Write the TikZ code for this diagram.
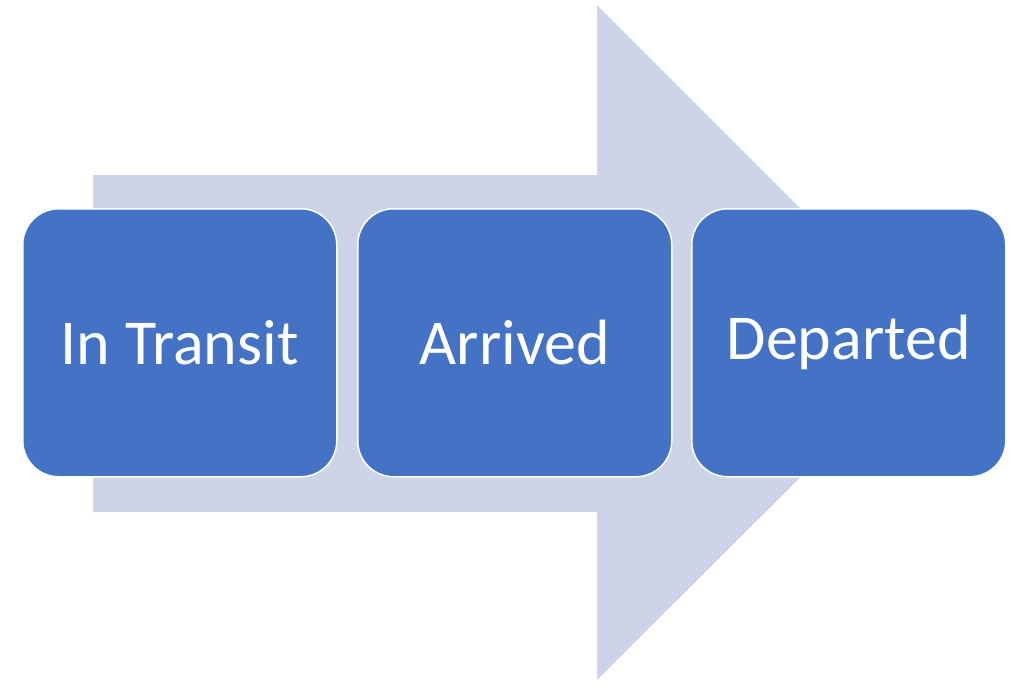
\documentclass[tikz,border=0pt]{standalone}
\usepackage{fontspec}
\setmainfont{Carlito}
\definecolor{arr}{HTML}{CED4E8}
\definecolor{box}{HTML}{4472C4}
\begin{document}
\begin{tikzpicture}[x=1pt,y=-1pt,
  stage/.style={draw=white,line width=1.5pt,fill=box,rounded corners=36pt,minimum width=314pt,minimum height=268pt,text=white,font=\fontsize{64}{70}\selectfont,anchor=north west}]
\useasboundingbox (0,0) rectangle (1024,693);
\fill[arr] (93,175) -- (597,175) -- (597,5) -- (935,343) -- (597,680) -- (597,512) -- (93,512) -- cycle;
\node[stage] (a) at (22,208) {In Transit};
\node[stage] (b) at (357,208) {Arrived};
\node[stage] (c) at (691,208) {Departed};
\end{tikzpicture}
\end{document}
